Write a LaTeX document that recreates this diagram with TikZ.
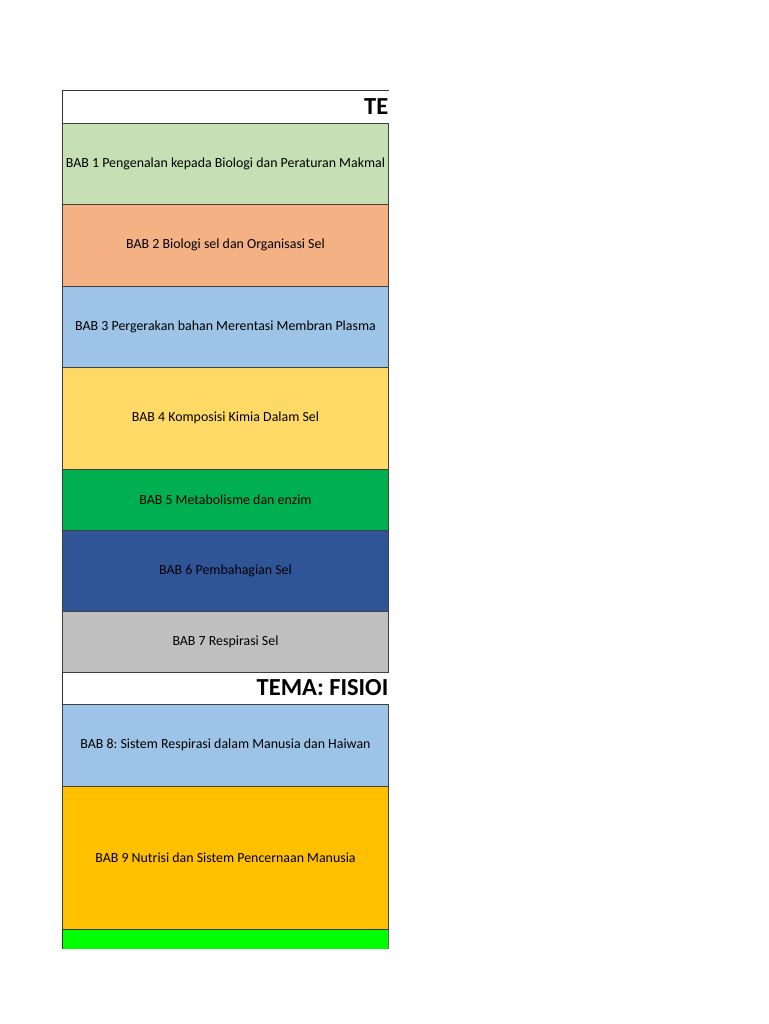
\documentclass[tikz,border=0pt]{standalone}
\usepackage{fontspec}
\setmainfont{Carlito}
\usetikzlibrary{positioning}
\frenchspacing
\definecolor{babgreen}{HTML}{C6E0B4}
\definecolor{babsalmon}{HTML}{F4B183}
\definecolor{babsky}{HTML}{9DC3E6}
\definecolor{babyellow}{HTML}{FFD966}
\definecolor{babemerald}{HTML}{00B050}
\definecolor{babnavy}{HTML}{2F5597}
\definecolor{babgrey}{HTML}{BFBFBF}
\definecolor{babamber}{HTML}{FFC000}
\definecolor{bablime}{HTML}{00FF00}
\tikzset{
  bab/.style={draw=black!75, line width=0.9pt, minimum width=326pt,
    inner sep=0pt, outer sep=0pt, font=\fontsize{13.9}{16}\selectfont},
  temarow/.style={minimum width=326pt, inner sep=0pt, outer sep=0pt},
  tematext/.style={inner sep=0pt, font=\bfseries\fontsize{24.5}{28}\selectfont},
  rule/.style={draw=black!80, line width=0.9pt},
}
\begin{document}
\begin{tikzpicture}[x=1pt, y=-1pt]
  \useasboundingbox (0,0) rectangle (768,1024);
  % tema 1
  \node[temarow, minimum height=33pt, anchor=north west] (h1) at (62.5,90) {};
  \node[bab, fill=babgreen, minimum height=81pt, below=0pt of h1] (b1) {BAB 1 Pengenalan kepada Biologi dan Peraturan Makmal};
  \node[bab, fill=babsalmon, minimum height=82pt, below=0pt of b1] (b2) {BAB 2 Biologi sel dan Organisasi Sel};
  \node[bab, fill=babsky, minimum height=81pt, below=0pt of b2] (b3) {BAB 3 Pergerakan bahan Merentasi Membran Plasma};
  \node[bab, fill=babyellow, minimum height=102pt, below=0pt of b3] (b4) {BAB 4 Komposisi Kimia Dalam Sel};
  \node[bab, fill=babemerald, minimum height=61pt, below=0pt of b4] (b5) {BAB 5 Metabolisme dan enzim};
  \node[bab, fill=babnavy, minimum height=81pt, below=0pt of b5] (b6) {BAB 6 Pembahagian Sel};
  \node[bab, fill=babgrey, minimum height=61pt, below=0pt of b6] (b7) {BAB 7 Respirasi Sel};
  % tema 2
  \node[temarow, minimum height=32pt, below=0pt of b7] (h2) {};
  \node[bab, fill=babsky, minimum height=82pt, below=0pt of h2] (b8) {BAB 8: Sistem Respirasi dalam Manusia dan Haiwan};
  \node[bab, fill=babamber, minimum height=143pt, below=0pt of b8] (b9) {BAB 9 Nutrisi dan Sistem Pencernaan Manusia};
  \node[temarow, fill=bablime, minimum height=20pt, below=0pt of b9] (b10) {};
  % tepi
  \draw[rule] (h1.north east) -- (h1.north west) -- (h1.south west);
  \draw[rule] (h2.north west) -- (h2.south west);
  \draw[rule] (b10.north west) -- (b10.south west);
  \draw[draw=black!60, line width=0.9pt] (b10.north east) -- (b10.south east);
  \draw[rule] (b9.south west) -- (b9.south east);
  \node[tematext, anchor=east] (t1) at (h1.east) {TE};
  \node[tematext, anchor=east] (t2) at (h2.east) {TEMA: FISIOI};
\end{tikzpicture}
\end{document}
